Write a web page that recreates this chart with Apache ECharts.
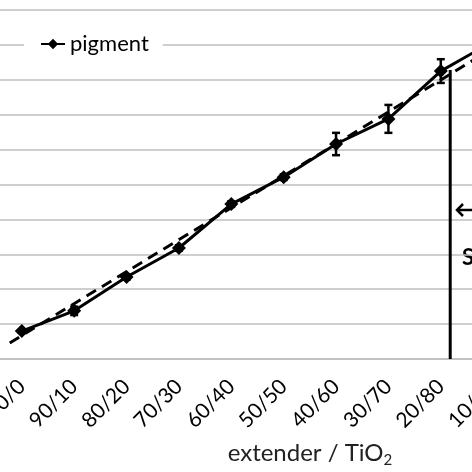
<!DOCTYPE html>
<html>
<head>
<meta charset="utf-8">
<script src="https://cdn.jsdelivr.net/npm/echarts@6/dist/echarts.min.js"></script>
<style>
html,body{margin:0;padding:0;background:#fff;}
#main{width:472px;height:472px;}
</style>
</head>
<body>
<div id="main"></div>
<script>
var categories = ['100/0','90/10','80/20','70/30','60/40','50/50','40/60','30/70','20/80','10/90'];
var pigment = [0.80, 1.38, 2.35, 3.18, 4.44, 5.21, 6.16, 6.88, 8.25, 9.10];
var pigmentErr = [0.05, 0.12, 0.08, 0.08, 0.08, 0.08, 0.32, 0.40, 0.34, 0.20];
// linear trend (dashed), in category-index units
var trendX = [-0.23, 9.5];
var trendY = [0.46, 9.37];
// vertical marker line
var markX = 8.18;
var markY = [0, 8.28];

var font = 'Lato';
var black = '#000';
var grey = '#bfbfbf';

var errData = [];
for(var i = 0; i < pigment.length; i++){
	errData.push([i, pigment[i] - pigmentErr[i], pigment[i] + pigmentErr[i]]);
}

var myChart = echarts.init(document.getElementById('main'));
var option = {
	animation: false,
	backgroundColor: '#fff',
	grid: {left: -4.4, top: 10, bottom: 113, width: 523.75, outerBoundsMode: 'none', containLabel: false},
	legend: {
		data: ['pigment'],
		left: 24, top: 27,
		backgroundColor: '#fff',
		padding: [6, 14, 6, 16],
		itemWidth: 24, itemHeight: 13,
		textStyle: {fontFamily: font, fontSize: 22, color: '#000'}
	},
	xAxis: [{
		type: 'category',
		data: categories,
		boundaryGap: true,
		axisLine: {lineStyle: {color: grey, width: 1.5}},
		axisTick: {lineStyle: {color: grey, width: 1.5}, length: 6},
		axisLabel: {rotate: 45, margin: 24, fontFamily: font, fontSize: 21, color: '#000', interval: 0},
		name: 'extender / TiO{sub|2}',
		nameLocation: 'middle',
		nameGap: 80,
		nameTextStyle: {
			fontFamily: font, fontSize: 24, color: '#222',
			padding: [0, 0, 0, 105],
			rich: {sub: {fontFamily: font, fontSize: 15, color: '#222', verticalAlign: 'bottom', padding: [14, 0, 0, 0]}}
		}
	}, {
		type: 'value',
		min: -0.5, max: 9.5,
		show: false
	}],
	yAxis: {
		type: 'value',
		min: 0, max: 10, interval: 1,
		axisLine: {show: false},
		axisTick: {show: false},
		axisLabel: {show: false},
		splitLine: {lineStyle: {color: grey, width: 1.5}}
	},
	series: [{
		name: 'trend',
		type: 'line',
		xAxisIndex: 1,
		data: [[trendX[0], trendY[0]], [trendX[1], trendY[1]]],
		symbol: 'none',
		lineStyle: {color: black, width: 3, type: [11, 7]},
		z: 2
	}, {
		name: 'pigment',
		type: 'line',
		data: pigment,
		symbol: 'diamond',
		symbolSize: [14, 14],
		itemStyle: {color: black},
		lineStyle: {color: black, width: 3},
		z: 3
	}, {
		name: 'err',
		type: 'custom',
		data: errData,
		z: 4,
		renderItem: function(params, api){
			var lo = api.coord([api.value(0), api.value(1)]);
			var hi = api.coord([api.value(0), api.value(2)]);
			var w = 4;
			var st = {stroke: black, lineWidth: 2.5};
			return {type: 'group', children: [
				{type: 'line', shape: {x1: lo[0], y1: lo[1], x2: hi[0], y2: hi[1]}, style: st},
				{type: 'line', shape: {x1: lo[0]-w, y1: lo[1], x2: lo[0]+w, y2: lo[1]}, style: st},
				{type: 'line', shape: {x1: hi[0]-w, y1: hi[1], x2: hi[0]+w, y2: hi[1]}, style: st}
			]};
		}
	}, {
		name: 'mark',
		type: 'line',
		xAxisIndex: 1,
		data: [[markX, markY[0]], [markX, markY[1]]],
		symbol: 'none',
		lineStyle: {color: black, width: 3},
		z: 3
	}],
	graphic: [{
		type: 'polyline',
		shape: {points: [[463, 204], [457, 210], [463, 216]]},
		style: {stroke: black, lineWidth: 2.5, fill: null}
	}, {
		type: 'line',
		shape: {x1: 457, y1: 210, x2: 480, y2: 210},
		style: {stroke: black, lineWidth: 2.5}
	}, {
		type: 'text',
		left: 462, top: 247,
		style: {text: 'S', fontFamily: font, fontSize: 22, fontWeight: 'bold', fill: black}
	}]
};
myChart.setOption(option);
</script>
</body>
</html>
